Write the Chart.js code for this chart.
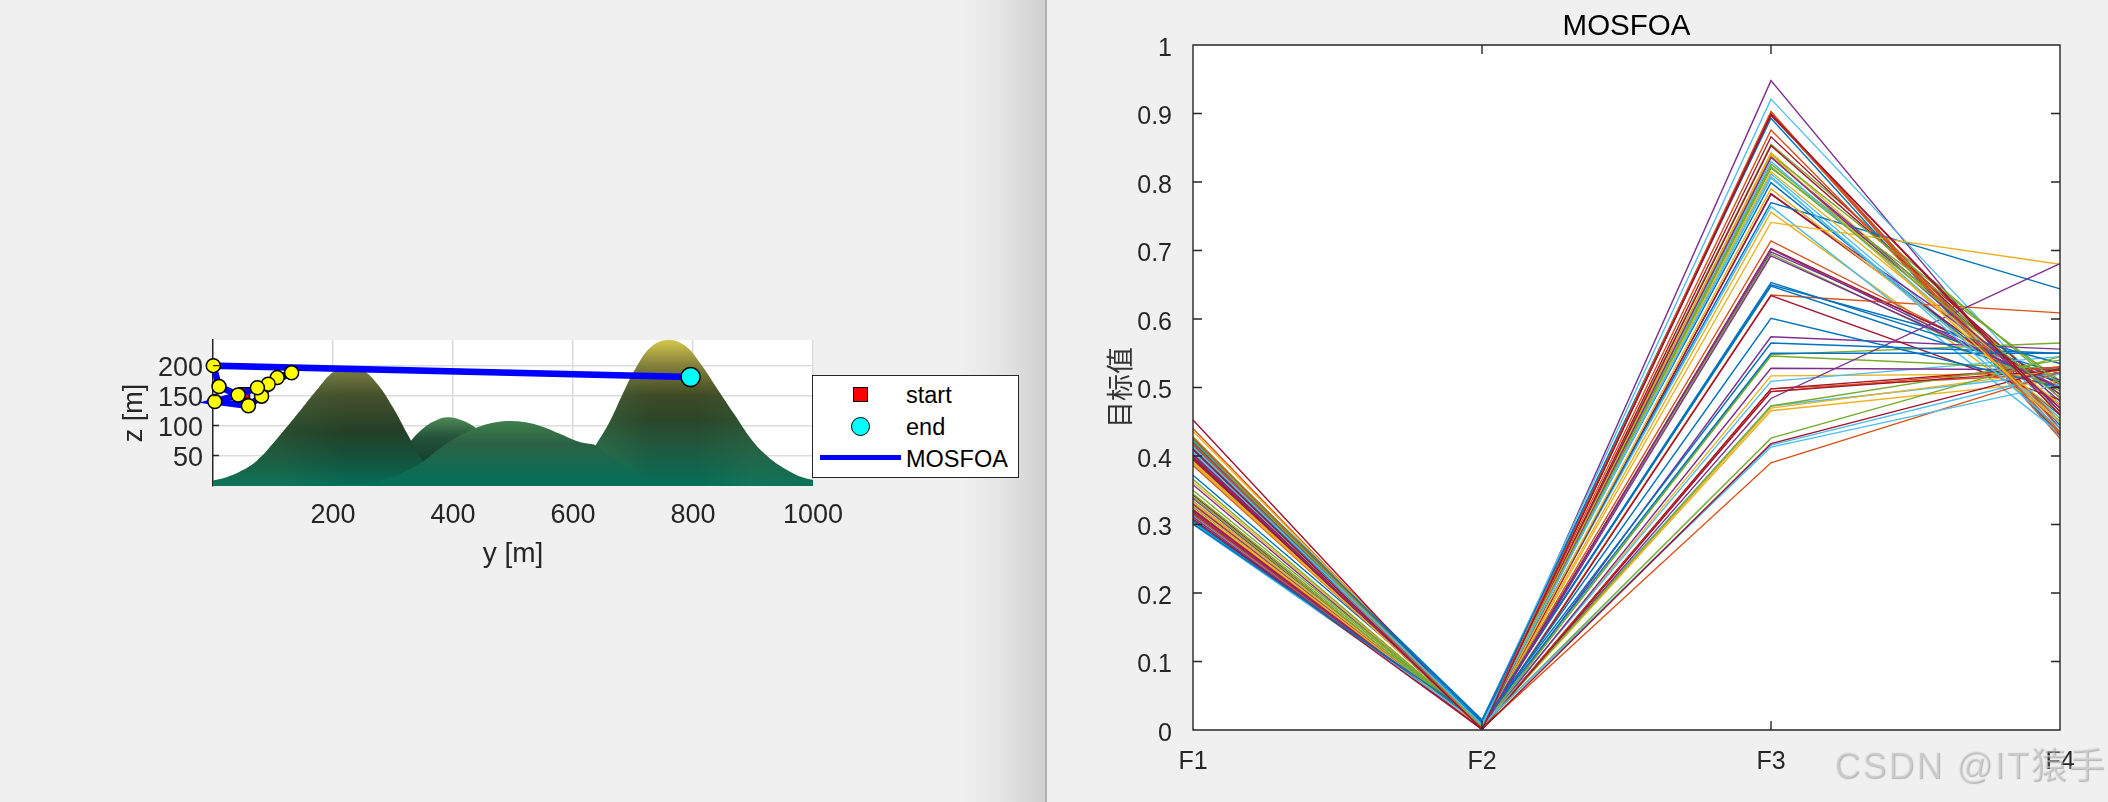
<!DOCTYPE html>
<html>
<head>
<meta charset="utf-8">
<script src="https://cdn.jsdelivr.net/npm/chart.js@4"></script>
<style>
  html, body { margin: 0; padding: 0; background: #f0f0f0; width: 2108px; height: 802px; overflow: hidden; }
  canvas { position: absolute; top: 0; }
  #shade { position: absolute; left: 960px; top: 0; width: 85px; height: 802px; background: linear-gradient(to right, #f0f0f0, #e6e6e6 45%, #d0d0d0); }
  #divider { position: absolute; left: 1045px; top: 0; width: 2px; height: 802px; background: #b0b0b0; }
  #legend { position: absolute; left: 812px; top: 375px; width: 205px; height: 101px; background: #fff; border: 1.5px solid #262626; font: 23.5px "Liberation Sans"; color: #000; }
  #legend span { position: absolute; left: 93px; line-height: 28px; }
  #legend i { position: absolute; display: block; box-sizing: border-box; }
  #watermark { position: absolute; left: 1834px; top: 736px; font: 36px "Liberation Sans", "Noto Sans CJK SC"; letter-spacing: 2px; color: rgba(228,228,228,.45); text-shadow: 1px 1px 1px rgba(120,120,120,.5); white-space: nowrap; }
</style>
</head>
<body>
<div id="shade"></div>
<div id="divider"></div>
<canvas id="pathChart" width="1045" height="802" style="left:0"></canvas>
<canvas id="paretoChart" width="1061" height="802" style="left:1047px"></canvas>
<div id="legend">
  <i style="left:40px;top:11px;width:15px;height:15px;background:#f00;border:1.5px solid #000"></i><span style="top:5px">start</span>
  <i style="left:38px;top:41px;width:19px;height:19px;border-radius:50%;background:#0ff;border:1.5px solid #000"></i><span style="top:37px">end</span>
  <i style="left:7px;top:79px;width:81px;height:5px;background:#00f"></i><span style="top:69px">MOSFOA</span>
</div>
<div id="watermark">CSDN @IT猿手</div>
<script>
// terrain profile
const hill1X = [0, 25, 50, 75, 100, 125, 150, 175, 200, 225, 250, 275, 300, 325, 350, 375, 400];
const hill1Z = [8, 14.5, 25.6, 43, 70, 100, 131, 162, 189, 197, 192, 168, 130, 84, 40, 12, 0];
const hill2X = [275, 300, 325, 350, 375, 394, 425, 450, 475, 500, 525, 550];
const hill2Z = [0, 30, 68, 95, 110, 113.6, 104, 85, 55, 25, 5, 0];
const hill3X = [250, 297, 330, 352, 374, 402, 438, 474, 507, 543, 576, 610, 638, 650, 675, 700, 725, 750, 775];
const hill3Z = [0, 13, 28, 41, 59, 78, 96, 106, 107, 100, 87, 73, 67, 58, 40, 25, 12, 4, 0];
const hill4X = [550, 575, 600, 625, 638, 660, 682, 704, 731, 759, 787, 812, 842, 870, 898, 925, 953, 981, 1000];
const hill4Z = [0, 5, 20, 45, 67, 104, 151, 195, 232, 243, 233, 204, 159, 117, 76, 48, 28, 14, 9];

// flight path
const pathX = [52, 3, 59, 81, 107, 131, 92, 74, 42, 10, 0.5, 796];
const pathZ = [154, 140, 133, 149, 180, 188, 169, 163, 151, 165, 200, 181];
const startX = [52];
const startZ = [154];
const endX = [796];
const endZ = [181];

const yTicks = [200, 400, 600, 800, 1000];
const zTicks = [50, 100, 150, 200];

// parallel coordinates, one row per colour cycle
const objectives = ["F1", "F2", "F3", "F4"];
const f1 = [
  .425, .440, .436, .420, .428, .411, .4526,
  .416, .399, .396, .412, .394, .391, .404,
  .421, .393, .407, .417, .390, .388, .402,
  .372, .386, .362, .358, .350, .408, .395,
  .326, .331, .323, .338, .334, .328, .343,
  .314, .318, .309, .329, .345, .312, .316,
  .307, .322, .333, .311, .340, .303, .321,
  .305, .315, .327, .319, .366, .300, .308,
  .301, .427, .392, .397, .414, .405, .398,
  .409, .418, .389, .401, .423, .413, .410,
];
const f2 = [
  .015, .004, .006, .003, .005, .012, .001,
  .013, .003, .005, .002, .006, .011, .002,
  .014, .004, .003, .002, .004, .010, .001,
  .012, .005, .004, .003, .007, .009, .002,
  .010, .003, .006, .002, .005, .008, .001,
  .009, .002, .004, .003, .006, .007, .002,
  .011, .003, .005, .002, .004, .006, .001,
  .008, .002, .003, .001, .005, .007, .001,
  .012, .004, .005, .003, .006, .009, .002,
  .010, .003, .004, .002, .005, .008, .001,
];
const f3 = [
  .898, .903, .843, .948, .855, .921, .866,
  .893, .900, .838, .836, .826, .812, .853,
  .799, .876, .756, .782, .820, .764, .783,
  .770, .714, .741, .698, .695, .830, .703,
  .653, .635, .517, .574, .548, .509, .634,
  .650, .498, .466, .528, .546, .473, .498,
  .648, .494, .470, .484, .473, .416, .494,
  .601, .390, .790, .692, .426, .413, .418,
  .565, .902, .815, .702, .840, .806, .897,
  .550, .900, .840, .836, .822, .808, .899,
];
const f4 = [
  .445, .426, .470, .440, .500, .475, .470,
  .430, .435, .455, .480, .490, .455, .485,
  .460, .450, .452, .490, .510, .433, .475,
  .644, .500, .680, .510, .495, .465, .505,
  .520, .609, .520, .556, .565, .545, .482,
  .535, .520, .510, .526, .527, .520, .530,
  .508, .530, .525, .681, .540, .520, .525,
  .500, .522, .462, .500, .545, .505, .528,
  .550, .440, .475, .498, .505, .450, .465,
  .550, .432, .448, .470, .485, .440, .460,
];
const lineColors = ["#0072BD", "#D95319", "#EDB120", "#7E2F8E", "#77AC30", "#4DBEEE", "#A2142F"];

Chart.defaults.font.family = '"Liberation Sans", sans-serif';
Chart.defaults.color = "#262626";
Chart.defaults.animation = false;

const inkColor = "#262626";
const toPoints = (xs, zs) => xs.map((x, i) => ({ x, y: zs[i] }));

// white plot background and MATLAB style ticks pointing inwards
const axesBox = {
  id: "axesBox",
  beforeDraw(chart) {
    const { ctx, chartArea: a } = chart;
    ctx.save();
    ctx.fillStyle = "#fff";
    ctx.fillRect(a.left, a.top, a.right - a.left, a.bottom - a.top);
    ctx.restore();
  },
  afterDraw(chart, args, opts) {
    const { ctx, chartArea: a, scales } = chart;
    const len = opts.tickLength;
    ctx.save();
    ctx.strokeStyle = inkColor;
    ctx.lineWidth = 1.4;
    ctx.beginPath();
    scales.y.ticks.forEach((t) => {
      const py = scales.y.getPixelForValue(t.value);
      ctx.moveTo(a.left, py);
      ctx.lineTo(a.left + len, py);
      if (opts.box) {
        ctx.moveTo(a.right, py);
        ctx.lineTo(a.right - len, py);
      }
    });
    if (opts.box) {
      scales.x.ticks.forEach((t, i) => {
        const px = scales.x.getPixelForTick(i);
        ctx.moveTo(px, a.bottom);
        ctx.lineTo(px, a.bottom - len);
        ctx.moveTo(px, a.top);
        ctx.lineTo(px, a.top + len);
      });
      ctx.rect(a.left, a.top, a.right - a.left, a.bottom - a.top);
    }
    ctx.stroke();
    ctx.restore();
  },
};

// fill following height
function heightFill(stops) {
  return ({ chart }) => {
    if (!chart.chartArea) return "transparent";
    const y = chart.scales.y;
    const top = stops[stops.length - 1][0];
    const g = chart.ctx.createLinearGradient(0, y.getPixelForValue(0), 0, y.getPixelForValue(top));
    stops.forEach(([z, c]) => g.addColorStop(z / top, c));
    return g;
  };
}

// lighter flanks on a hill
function flankFill(stops) {
  return ({ chart }) => {
    if (!chart.chartArea) return "transparent";
    const x = chart.scales.x;
    const g = chart.ctx.createLinearGradient(x.getPixelForValue(0), 0, x.getPixelForValue(1000), 0);
    stops.forEach(([v, c]) => g.addColorStop(v / 1000, c));
    return g;
  };
}

function hill(xs, zs, fill, order) {
  return {
    data: toPoints(xs, zs),
    order,
    fill: "start",
    backgroundColor: fill,
    borderWidth: 0,
    pointRadius: 0,
    tension: 0.4,
  };
}

new Chart(document.getElementById("pathChart"), {
  type: "line",
  data: {
    datasets: [
      hill(hill2X, hill2Z, heightFill([[0, "#0f4f3c"], [40, "#153f2e"], [80, "#24523a"], [113.6, "#4e8a55"]]), 10),
      hill(hill1X, hill1Z, heightFill([[0, "#056f59"], [30, "#0f5a44"], [90, "#233f26"], [150, "#45512c"], [197, "#7d8043"]]), 9),
      hill(hill1X, hill1Z, flankFill([[0, "rgba(70,140,90,.18)"], [110, "rgba(70,140,90,.18)"], [220, "rgba(70,140,90,0)"], [1000, "rgba(70,140,90,0)"]]), 8),
      hill(hill4X, hill4Z, heightFill([[0, "#056f59"], [60, "#1f5a40"], [110, "#2b4628"], [150, "#3f4a26"], [200, "#847f3b"], [243, "#d3c84a"]]), 7),
      hill(hill4X, hill4Z, flankFill([[0, "rgba(70,140,90,0)"], [640, "rgba(70,140,90,.3)"], [730, "rgba(70,140,90,0)"], [810, "rgba(70,140,90,0)"], [900, "rgba(70,140,90,.18)"], [1000, "rgba(70,140,90,.1)"]]), 6),
      hill(hill3X, hill3Z, heightFill([[0, "#056f59"], [30, "#136a52"], [70, "#2a6244"], [107, "#3f7f4b"]]), 5),
      {
        data: toPoints(startX, startZ),
        order: 3,
        clip: false,
        showLine: false,
        pointStyle: "rect",
        pointRadius: 7.5,
        pointBackgroundColor: "#f00",
        pointBorderColor: "#000",
        pointBorderWidth: 1.5,
      },
      {
        data: toPoints(pathX, pathZ),
        order: 2,
        clip: false,
        borderColor: "#00f",
        borderWidth: 6.5,
        tension: 0,
        pointRadius: (c) => (c.dataIndex === 0 ? 0 : 7),
        pointBackgroundColor: "#ff0",
        pointBorderColor: "#000",
        pointBorderWidth: 1.5,
      },
      {
        data: toPoints(endX, endZ),
        order: 1,
        clip: false,
        showLine: false,
        pointRadius: 9.5,
        pointBackgroundColor: "#0ff",
        pointBorderColor: "#000",
        pointBorderWidth: 1.5,
      },
    ],
  },
  options: {
    responsive: false,
    layout: { padding: { top: 340, right: 232, bottom: 216, left: 0 } },
    plugins: {
      legend: { display: false },
      tooltip: { enabled: false },
      axesBox: { tickLength: 6, box: false },
    },
    scales: {
      x: {
        type: "linear",
        min: 0,
        max: 1000,
        afterBuildTicks: (scale) => { scale.ticks = yTicks.map((value) => ({ value })); },
        afterFit: (scale) => { scale.height = 100; },
        grid: { color: "#dcdcdc", lineWidth: 1.5, drawTicks: false },
        border: { display: false },
        ticks: { font: { size: 27 }, padding: 13, maxRotation: 0, callback: (v) => String(v) },
        title: { display: true, text: "y [m]", font: { size: 28 }, padding: { top: 0, bottom: 15 } },
      },
      y: {
        min: -1,
        max: 242.8,
        afterBuildTicks: (scale) => { scale.ticks = zTicks.map((value) => ({ value })); },
        afterFit: (scale) => { scale.width = 213; },
        grid: { color: "#dcdcdc", lineWidth: 1.5, drawTicks: false },
        border: { color: inkColor, width: 1.5 },
        ticks: { font: { size: 27 }, padding: 10, labelOffset: 3 },
        title: { display: true, text: "z [m]", font: { size: 27 }, padding: { top: 118, bottom: 0 } },
      },
    },
  },
  plugins: [axesBox],
});

new Chart(document.getElementById("paretoChart"), {
  type: "line",
  data: {
    labels: objectives,
    datasets: f1.map((v, i) => ({
      data: [v, f2[i], f3[i], f4[i]],
      order: f1.length - i,
      borderColor: lineColors[i % lineColors.length],
      borderWidth: 1.4,
      pointRadius: 0,
      tension: 0,
    })),
  },
  options: {
    responsive: false,
    layout: { padding: { top: 0, right: 48, bottom: 0, left: 0 } },
    plugins: {
      legend: { display: false },
      tooltip: { enabled: false },
      title: {
        display: true,
        text: "MOSFOA",
        fullSize: false,
        color: "#000",
        font: { size: 29.5, weight: "normal" },
        padding: { top: 9.3, bottom: 0.3 },
      },
      axesBox: { tickLength: 9, box: true },
    },
    scales: {
      x: {
        offset: false,
        afterFit: (scale) => { scale.height = 72; },
        grid: { display: false },
        border: { display: false },
        ticks: { font: { size: 25 }, padding: 9, autoSkip: false, maxRotation: 0 },
      },
      y: {
        min: 0,
        max: 1,
        afterFit: (scale) => { scale.width = 146; },
        grid: { display: false },
        border: { display: false },
        ticks: { stepSize: 0.1, font: { size: 25 }, padding: 13, labelOffset: 4, callback: (v) => String(+v.toFixed(1)) },
        title: { display: true, text: "目标值", color: "#333", font: { size: 27, family: '"Noto Sans CJK SC"' }, padding: { top: 57, bottom: 0 } },
      },
    },
  },
  plugins: [axesBox],
});
</script>
</body>
</html>
